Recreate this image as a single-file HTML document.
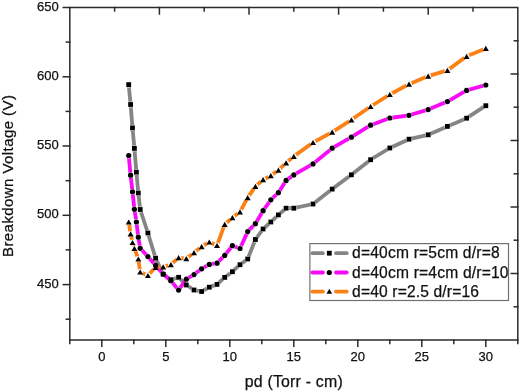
<!DOCTYPE html><html><head><meta charset="utf-8"><style>html,body{margin:0;padding:0;background:#fff;}svg{display:block;}text{font-family:"Liberation Sans",Arial,sans-serif;fill:#111;stroke:#111;stroke-width:0.25px;}</style></head><body>
<svg width="520" height="391" viewBox="0 0 520 391">
<rect width="520" height="391" fill="#fff"/>
<defs>
<mask id="m0" maskUnits="userSpaceOnUse" x="0" y="0" width="520" height="391"><rect width="520" height="391" fill="#fff"/><circle cx="128.7" cy="84.6" r="2.9" fill="#000"/><circle cx="130.6" cy="104.5" r="2.9" fill="#000"/><circle cx="132.5" cy="127.9" r="2.9" fill="#000"/><circle cx="134.4" cy="148.4" r="2.9" fill="#000"/><circle cx="136.4" cy="172.2" r="2.9" fill="#000"/><circle cx="138.3" cy="193.0" r="2.9" fill="#000"/><circle cx="140.2" cy="209.5" r="2.9" fill="#000"/><circle cx="147.9" cy="233.0" r="2.9" fill="#000"/><circle cx="155.6" cy="258.2" r="2.9" fill="#000"/><circle cx="163.2" cy="274.2" r="2.9" fill="#000"/><circle cx="170.9" cy="279.8" r="2.9" fill="#000"/><circle cx="178.6" cy="277.3" r="2.9" fill="#000"/><circle cx="186.3" cy="285.0" r="2.9" fill="#000"/><circle cx="194.0" cy="290.0" r="2.9" fill="#000"/><circle cx="201.6" cy="291.5" r="2.9" fill="#000"/><circle cx="209.3" cy="287.2" r="2.9" fill="#000"/><circle cx="217.0" cy="284.4" r="2.9" fill="#000"/><circle cx="224.7" cy="277.4" r="2.9" fill="#000"/><circle cx="232.4" cy="271.7" r="2.9" fill="#000"/><circle cx="240.0" cy="264.7" r="2.9" fill="#000"/><circle cx="247.7" cy="259.0" r="2.9" fill="#000"/><circle cx="255.4" cy="239.5" r="2.9" fill="#000"/><circle cx="263.1" cy="229.0" r="2.9" fill="#000"/><circle cx="270.8" cy="222.0" r="2.9" fill="#000"/><circle cx="278.4" cy="214.9" r="2.9" fill="#000"/><circle cx="286.1" cy="208.2" r="2.9" fill="#000"/><circle cx="293.8" cy="208.2" r="2.9" fill="#000"/><circle cx="313.0" cy="204.0" r="2.9" fill="#000"/><circle cx="332.2" cy="189.1" r="2.9" fill="#000"/><circle cx="351.4" cy="174.8" r="2.9" fill="#000"/><circle cx="370.6" cy="159.7" r="2.9" fill="#000"/><circle cx="389.8" cy="148.0" r="2.9" fill="#000"/><circle cx="409.0" cy="139.2" r="2.9" fill="#000"/><circle cx="428.2" cy="134.8" r="2.9" fill="#000"/><circle cx="447.4" cy="126.4" r="2.9" fill="#000"/><circle cx="466.6" cy="118.2" r="2.9" fill="#000"/><circle cx="485.8" cy="105.7" r="2.9" fill="#000"/></mask>
<mask id="m1" maskUnits="userSpaceOnUse" x="0" y="0" width="520" height="391"><rect width="520" height="391" fill="#fff"/><circle cx="128.7" cy="155.5" r="2.9" fill="#000"/><circle cx="130.6" cy="175.2" r="2.9" fill="#000"/><circle cx="132.5" cy="191.8" r="2.9" fill="#000"/><circle cx="134.4" cy="209.3" r="2.9" fill="#000"/><circle cx="136.4" cy="222.0" r="2.9" fill="#000"/><circle cx="138.3" cy="237.2" r="2.9" fill="#000"/><circle cx="140.2" cy="248.3" r="2.9" fill="#000"/><circle cx="147.9" cy="256.6" r="2.9" fill="#000"/><circle cx="155.6" cy="265.4" r="2.9" fill="#000"/><circle cx="163.2" cy="274.0" r="2.9" fill="#000"/><circle cx="170.9" cy="280.7" r="2.9" fill="#000"/><circle cx="178.6" cy="290.1" r="2.9" fill="#000"/><circle cx="186.3" cy="279.2" r="2.9" fill="#000"/><circle cx="194.0" cy="274.6" r="2.9" fill="#000"/><circle cx="201.6" cy="268.8" r="2.9" fill="#000"/><circle cx="209.3" cy="264.4" r="2.9" fill="#000"/><circle cx="217.0" cy="263.2" r="2.9" fill="#000"/><circle cx="224.7" cy="255.4" r="2.9" fill="#000"/><circle cx="232.4" cy="245.7" r="2.9" fill="#000"/><circle cx="240.0" cy="248.5" r="2.9" fill="#000"/><circle cx="247.7" cy="231.6" r="2.9" fill="#000"/><circle cx="255.4" cy="223.7" r="2.9" fill="#000"/><circle cx="263.1" cy="210.7" r="2.9" fill="#000"/><circle cx="270.8" cy="199.8" r="2.9" fill="#000"/><circle cx="278.4" cy="192.7" r="2.9" fill="#000"/><circle cx="286.1" cy="180.4" r="2.9" fill="#000"/><circle cx="293.8" cy="174.9" r="2.9" fill="#000"/><circle cx="313.0" cy="163.9" r="2.9" fill="#000"/><circle cx="332.2" cy="148.2" r="2.9" fill="#000"/><circle cx="351.4" cy="137.2" r="2.9" fill="#000"/><circle cx="370.6" cy="125.2" r="2.9" fill="#000"/><circle cx="389.8" cy="118.0" r="2.9" fill="#000"/><circle cx="409.0" cy="115.3" r="2.9" fill="#000"/><circle cx="428.2" cy="109.6" r="2.9" fill="#000"/><circle cx="447.4" cy="101.6" r="2.9" fill="#000"/><circle cx="466.6" cy="90.4" r="2.9" fill="#000"/><circle cx="485.8" cy="85.0" r="2.9" fill="#000"/></mask>
<mask id="m2" maskUnits="userSpaceOnUse" x="0" y="0" width="520" height="391"><rect width="520" height="391" fill="#fff"/><circle cx="128.7" cy="222.0" r="2.9" fill="#000"/><circle cx="130.6" cy="233.9" r="2.9" fill="#000"/><circle cx="132.5" cy="242.5" r="2.9" fill="#000"/><circle cx="134.4" cy="248.4" r="2.9" fill="#000"/><circle cx="138.3" cy="259.0" r="2.9" fill="#000"/><circle cx="140.2" cy="272.0" r="2.9" fill="#000"/><circle cx="147.9" cy="275.5" r="2.9" fill="#000"/><circle cx="155.6" cy="267.3" r="2.9" fill="#000"/><circle cx="163.2" cy="266.8" r="2.9" fill="#000"/><circle cx="170.9" cy="264.6" r="2.9" fill="#000"/><circle cx="178.6" cy="257.6" r="2.9" fill="#000"/><circle cx="186.3" cy="258.6" r="2.9" fill="#000"/><circle cx="194.0" cy="252.7" r="2.9" fill="#000"/><circle cx="201.6" cy="246.6" r="2.9" fill="#000"/><circle cx="209.3" cy="242.0" r="2.9" fill="#000"/><circle cx="217.0" cy="245.5" r="2.9" fill="#000"/><circle cx="224.7" cy="224.4" r="2.9" fill="#000"/><circle cx="232.4" cy="217.6" r="2.9" fill="#000"/><circle cx="240.0" cy="211.9" r="2.9" fill="#000"/><circle cx="247.7" cy="197.6" r="2.9" fill="#000"/><circle cx="255.4" cy="186.4" r="2.9" fill="#000"/><circle cx="263.1" cy="179.7" r="2.9" fill="#000"/><circle cx="270.8" cy="175.6" r="2.9" fill="#000"/><circle cx="278.4" cy="170.1" r="2.9" fill="#000"/><circle cx="286.1" cy="162.9" r="2.9" fill="#000"/><circle cx="293.8" cy="156.4" r="2.9" fill="#000"/><circle cx="313.0" cy="142.5" r="2.9" fill="#000"/><circle cx="332.2" cy="132.1" r="2.9" fill="#000"/><circle cx="351.4" cy="119.8" r="2.9" fill="#000"/><circle cx="370.6" cy="106.5" r="2.9" fill="#000"/><circle cx="389.8" cy="94.5" r="2.9" fill="#000"/><circle cx="409.0" cy="84.2" r="2.9" fill="#000"/><circle cx="428.2" cy="76.1" r="2.9" fill="#000"/><circle cx="447.4" cy="70.4" r="2.9" fill="#000"/><circle cx="466.6" cy="56.3" r="2.9" fill="#000"/><circle cx="485.8" cy="48.4" r="2.9" fill="#000"/></mask>
</defs>
<polyline points="128.7,84.6 130.6,104.5 132.5,127.9 134.4,148.4 136.4,172.2 138.3,193.0 140.2,209.5 147.9,233.0 155.6,258.2 163.2,274.2 170.9,279.8 178.6,277.3 186.3,285.0 194.0,290.0 201.6,291.5 209.3,287.2 217.0,284.4 224.7,277.4 232.4,271.7 240.0,264.7 247.7,259.0 255.4,239.5 263.1,229.0 270.8,222.0 278.4,214.9 286.1,208.2 293.8,208.2 313.0,204.0 332.2,189.1 351.4,174.8 370.6,159.7 389.8,148.0 409.0,139.2 428.2,134.8 447.4,126.4 466.6,118.2 485.8,105.7" fill="none" stroke="#858585" stroke-width="3.8" stroke-linejoin="round" stroke-linecap="butt" mask="url(#m0)"/>
<polyline points="128.7,155.5 130.6,175.2 132.5,191.8 134.4,209.3 136.4,222.0 138.3,237.2 140.2,248.3 147.9,256.6 155.6,265.4 163.2,274.0 170.9,280.7 178.6,290.1 186.3,279.2 194.0,274.6 201.6,268.8 209.3,264.4 217.0,263.2 224.7,255.4 232.4,245.7 240.0,248.5 247.7,231.6 255.4,223.7 263.1,210.7 270.8,199.8 278.4,192.7 286.1,180.4 293.8,174.9 313.0,163.9 332.2,148.2 351.4,137.2 370.6,125.2 389.8,118.0 409.0,115.3 428.2,109.6 447.4,101.6 466.6,90.4 485.8,85.0" fill="none" stroke="#f80cf8" stroke-width="3.8" stroke-linejoin="round" stroke-linecap="butt" mask="url(#m1)"/>
<polyline points="128.7,222.0 130.6,233.9 132.5,242.5 134.4,248.4 138.3,259.0 140.2,272.0 147.9,275.5 155.6,267.3 163.2,266.8 170.9,264.6 178.6,257.6 186.3,258.6 194.0,252.7 201.6,246.6 209.3,242.0 217.0,245.5 224.7,224.4 232.4,217.6 240.0,211.9 247.7,197.6 255.4,186.4 263.1,179.7 270.8,175.6 278.4,170.1 286.1,162.9 293.8,156.4 313.0,142.5 332.2,132.1 351.4,119.8 370.6,106.5 389.8,94.5 409.0,84.2 428.2,76.1 447.4,70.4 466.6,56.3 485.8,48.4" fill="none" stroke="#fb8114" stroke-width="3.8" stroke-linejoin="round" stroke-linecap="butt" mask="url(#m2)"/>
<g fill="#000"><rect x="126.3" y="82.2" width="4.8" height="4.8"/><rect x="128.2" y="102.1" width="4.8" height="4.8"/><rect x="130.1" y="125.5" width="4.8" height="4.8"/><rect x="132.0" y="146.0" width="4.8" height="4.8"/><rect x="134.0" y="169.8" width="4.8" height="4.8"/><rect x="135.9" y="190.6" width="4.8" height="4.8"/><rect x="137.8" y="207.1" width="4.8" height="4.8"/><rect x="145.5" y="230.6" width="4.8" height="4.8"/><rect x="153.2" y="255.8" width="4.8" height="4.8"/><rect x="160.8" y="271.8" width="4.8" height="4.8"/><rect x="168.5" y="277.4" width="4.8" height="4.8"/><rect x="176.2" y="274.9" width="4.8" height="4.8"/><rect x="183.9" y="282.6" width="4.8" height="4.8"/><rect x="191.6" y="287.6" width="4.8" height="4.8"/><rect x="199.2" y="289.1" width="4.8" height="4.8"/><rect x="206.9" y="284.8" width="4.8" height="4.8"/><rect x="214.6" y="282.0" width="4.8" height="4.8"/><rect x="222.3" y="275.0" width="4.8" height="4.8"/><rect x="230.0" y="269.3" width="4.8" height="4.8"/><rect x="237.6" y="262.3" width="4.8" height="4.8"/><rect x="245.3" y="256.6" width="4.8" height="4.8"/><rect x="253.0" y="237.1" width="4.8" height="4.8"/><rect x="260.7" y="226.6" width="4.8" height="4.8"/><rect x="268.4" y="219.6" width="4.8" height="4.8"/><rect x="276.0" y="212.5" width="4.8" height="4.8"/><rect x="283.7" y="205.8" width="4.8" height="4.8"/><rect x="291.4" y="205.8" width="4.8" height="4.8"/><rect x="310.6" y="201.6" width="4.8" height="4.8"/><rect x="329.8" y="186.7" width="4.8" height="4.8"/><rect x="349.0" y="172.4" width="4.8" height="4.8"/><rect x="368.2" y="157.3" width="4.8" height="4.8"/><rect x="387.4" y="145.6" width="4.8" height="4.8"/><rect x="406.6" y="136.8" width="4.8" height="4.8"/><rect x="425.8" y="132.4" width="4.8" height="4.8"/><rect x="445.0" y="124.0" width="4.8" height="4.8"/><rect x="464.2" y="115.8" width="4.8" height="4.8"/><rect x="483.4" y="103.3" width="4.8" height="4.8"/><circle cx="128.7" cy="155.5" r="2.6"/><circle cx="130.6" cy="175.2" r="2.6"/><circle cx="132.5" cy="191.8" r="2.6"/><circle cx="134.4" cy="209.3" r="2.6"/><circle cx="136.4" cy="222.0" r="2.6"/><circle cx="138.3" cy="237.2" r="2.6"/><circle cx="140.2" cy="248.3" r="2.6"/><circle cx="147.9" cy="256.6" r="2.6"/><circle cx="155.6" cy="265.4" r="2.6"/><circle cx="163.2" cy="274.0" r="2.6"/><circle cx="170.9" cy="280.7" r="2.6"/><circle cx="178.6" cy="290.1" r="2.6"/><circle cx="186.3" cy="279.2" r="2.6"/><circle cx="194.0" cy="274.6" r="2.6"/><circle cx="201.6" cy="268.8" r="2.6"/><circle cx="209.3" cy="264.4" r="2.6"/><circle cx="217.0" cy="263.2" r="2.6"/><circle cx="224.7" cy="255.4" r="2.6"/><circle cx="232.4" cy="245.7" r="2.6"/><circle cx="240.0" cy="248.5" r="2.6"/><circle cx="247.7" cy="231.6" r="2.6"/><circle cx="255.4" cy="223.7" r="2.6"/><circle cx="263.1" cy="210.7" r="2.6"/><circle cx="270.8" cy="199.8" r="2.6"/><circle cx="278.4" cy="192.7" r="2.6"/><circle cx="286.1" cy="180.4" r="2.6"/><circle cx="293.8" cy="174.9" r="2.6"/><circle cx="313.0" cy="163.9" r="2.6"/><circle cx="332.2" cy="148.2" r="2.6"/><circle cx="351.4" cy="137.2" r="2.6"/><circle cx="370.6" cy="125.2" r="2.6"/><circle cx="389.8" cy="118.0" r="2.6"/><circle cx="409.0" cy="115.3" r="2.6"/><circle cx="428.2" cy="109.6" r="2.6"/><circle cx="447.4" cy="101.6" r="2.6"/><circle cx="466.6" cy="90.4" r="2.6"/><circle cx="485.8" cy="85.0" r="2.6"/><polygon points="128.7,219.4 131.7,224.6 125.7,224.6"/><polygon points="130.6,231.3 133.6,236.5 127.6,236.5"/><polygon points="132.5,239.9 135.5,245.1 129.5,245.1"/><polygon points="134.4,245.8 137.4,251.0 131.4,251.0"/><polygon points="138.3,256.4 141.3,261.6 135.3,261.6"/><polygon points="140.2,269.4 143.2,274.6 137.2,274.6"/><polygon points="147.9,272.9 150.9,278.1 144.9,278.1"/><polygon points="155.6,264.7 158.6,269.9 152.6,269.9"/><polygon points="163.2,264.2 166.2,269.4 160.2,269.4"/><polygon points="170.9,262.0 173.9,267.2 167.9,267.2"/><polygon points="178.6,255.0 181.6,260.2 175.6,260.2"/><polygon points="186.3,256.0 189.3,261.2 183.3,261.2"/><polygon points="194.0,250.1 197.0,255.3 191.0,255.3"/><polygon points="201.6,244.0 204.6,249.2 198.6,249.2"/><polygon points="209.3,239.4 212.3,244.6 206.3,244.6"/><polygon points="217.0,242.9 220.0,248.1 214.0,248.1"/><polygon points="224.7,221.8 227.7,227.0 221.7,227.0"/><polygon points="232.4,215.0 235.4,220.2 229.4,220.2"/><polygon points="240.0,209.3 243.0,214.5 237.0,214.5"/><polygon points="247.7,195.0 250.7,200.2 244.7,200.2"/><polygon points="255.4,183.8 258.4,189.0 252.4,189.0"/><polygon points="263.1,177.1 266.1,182.3 260.1,182.3"/><polygon points="270.8,173.0 273.8,178.2 267.8,178.2"/><polygon points="278.4,167.5 281.4,172.7 275.4,172.7"/><polygon points="286.1,160.3 289.1,165.5 283.1,165.5"/><polygon points="293.8,153.8 296.8,159.0 290.8,159.0"/><polygon points="313.0,139.9 316.0,145.1 310.0,145.1"/><polygon points="332.2,129.5 335.2,134.7 329.2,134.7"/><polygon points="351.4,117.2 354.4,122.4 348.4,122.4"/><polygon points="370.6,103.9 373.6,109.1 367.6,109.1"/><polygon points="389.8,91.9 392.8,97.1 386.8,97.1"/><polygon points="409.0,81.6 412.0,86.8 406.0,86.8"/><polygon points="428.2,73.5 431.2,78.7 425.2,78.7"/><polygon points="447.4,67.8 450.4,73.0 444.4,73.0"/><polygon points="466.6,53.7 469.6,58.9 463.6,58.9"/><polygon points="485.8,45.8 488.8,51.0 482.8,51.0"/></g>
<g stroke="#2b2b2b" stroke-width="1.5" fill="none" stroke-linecap="square">
<rect x="69.8" y="7.5" width="447.99999999999994" height="332.5"/>
<line x1="69.8" y1="340.0" x2="69.8" y2="343.5"/>
<line x1="101.8" y1="340.0" x2="101.8" y2="346.3"/>
<line x1="133.8" y1="340.0" x2="133.8" y2="343.5"/>
<line x1="165.8" y1="340.0" x2="165.8" y2="346.3"/>
<line x1="197.8" y1="340.0" x2="197.8" y2="343.5"/>
<line x1="229.8" y1="340.0" x2="229.8" y2="346.3"/>
<line x1="261.8" y1="340.0" x2="261.8" y2="343.5"/>
<line x1="293.8" y1="340.0" x2="293.8" y2="346.3"/>
<line x1="325.8" y1="340.0" x2="325.8" y2="343.5"/>
<line x1="357.8" y1="340.0" x2="357.8" y2="346.3"/>
<line x1="389.8" y1="340.0" x2="389.8" y2="343.5"/>
<line x1="421.8" y1="340.0" x2="421.8" y2="346.3"/>
<line x1="453.8" y1="340.0" x2="453.8" y2="343.5"/>
<line x1="485.8" y1="340.0" x2="485.8" y2="346.3"/>
<line x1="517.8" y1="340.0" x2="517.8" y2="343.5"/>
<line x1="69.8" y1="319.2" x2="66.3" y2="319.2"/>
<line x1="69.8" y1="284.6" x2="63.3" y2="284.6"/>
<line x1="69.8" y1="249.9" x2="66.3" y2="249.9"/>
<line x1="69.8" y1="215.3" x2="63.3" y2="215.3"/>
<line x1="69.8" y1="180.7" x2="66.3" y2="180.7"/>
<line x1="69.8" y1="146.0" x2="63.3" y2="146.0"/>
<line x1="69.8" y1="111.4" x2="66.3" y2="111.4"/>
<line x1="69.8" y1="76.8" x2="63.3" y2="76.8"/>
<line x1="69.8" y1="42.1" x2="66.3" y2="42.1"/>
<line x1="69.8" y1="7.5" x2="63.3" y2="7.5"/>
<line x1="114.6" y1="7.5" x2="114.6" y2="11.0"/>
<line x1="159.4" y1="7.5" x2="159.4" y2="14.0"/>
<line x1="204.2" y1="7.5" x2="204.2" y2="11.0"/>
<line x1="249.0" y1="7.5" x2="249.0" y2="14.0"/>
<line x1="293.8" y1="7.5" x2="293.8" y2="11.0"/>
<line x1="338.6" y1="7.5" x2="338.6" y2="14.0"/>
<line x1="383.4" y1="7.5" x2="383.4" y2="11.0"/>
<line x1="428.2" y1="7.5" x2="428.2" y2="14.0"/>
<line x1="473.0" y1="7.5" x2="473.0" y2="11.0"/>
<line x1="517.8" y1="40.8" x2="514.3" y2="40.8"/>
<line x1="517.8" y1="74.0" x2="511.29999999999995" y2="74.0"/>
<line x1="517.8" y1="107.2" x2="514.3" y2="107.2"/>
<line x1="517.8" y1="140.5" x2="511.29999999999995" y2="140.5"/>
<line x1="517.8" y1="173.8" x2="514.3" y2="173.8"/>
<line x1="517.8" y1="207.0" x2="511.29999999999995" y2="207.0"/>
<line x1="517.8" y1="240.2" x2="514.3" y2="240.2"/>
<line x1="517.8" y1="273.5" x2="511.29999999999995" y2="273.5"/>
<line x1="517.8" y1="306.8" x2="514.3" y2="306.8"/>
</g>
<text x="58.8" y="287.6" font-size="13.0" text-anchor="end">450</text>
<text x="58.8" y="218.3" font-size="13.0" text-anchor="end">500</text>
<text x="58.8" y="149.0" font-size="13.0" text-anchor="end">550</text>
<text x="58.8" y="79.8" font-size="13.0" text-anchor="end">600</text>
<text x="58.8" y="10.5" font-size="13.0" text-anchor="end">650</text>
<text x="101.8" y="361" font-size="13.0" text-anchor="middle">0</text>
<text x="165.8" y="361" font-size="13.0" text-anchor="middle">5</text>
<text x="229.8" y="361" font-size="13.0" text-anchor="middle">10</text>
<text x="293.8" y="361" font-size="13.0" text-anchor="middle">15</text>
<text x="357.8" y="361" font-size="13.0" text-anchor="middle">20</text>
<text x="421.8" y="361" font-size="13.0" text-anchor="middle">25</text>
<text x="485.8" y="361" font-size="13.0" text-anchor="middle">30</text>
<text x="244.7" y="386.8" font-size="15.9" textLength="98.0" lengthAdjust="spacing">pd (Torr - cm)</text>
<text transform="translate(13.0,257.0) rotate(-90)" font-size="15.0" textLength="162.0" lengthAdjust="spacing">Breakdown Voltage (V)</text>
<rect x="309.9" y="243.6" width="198.6" height="56.9" fill="#fff" stroke="#707070" stroke-width="1.2"/>
<line x1="312.4" y1="253.2" x2="322.9" y2="253.2" stroke="#858585" stroke-width="3.8" stroke-linecap="round"/>
<line x1="336.0" y1="253.2" x2="346.7" y2="253.2" stroke="#858585" stroke-width="3.8" stroke-linecap="round"/>
<rect x="326.90000000000003" y="250.79999999999998" width="4.8" height="4.8" fill="#000"/>
<text x="352.1" y="258.4" font-size="15.6" textLength="147.5" lengthAdjust="spacing">d=40cm r=5cm d/r=8</text>
<line x1="312.4" y1="272.5" x2="322.9" y2="272.5" stroke="#f80cf8" stroke-width="3.8" stroke-linecap="round"/>
<line x1="336.0" y1="272.5" x2="346.7" y2="272.5" stroke="#f80cf8" stroke-width="3.8" stroke-linecap="round"/>
<circle cx="329.3" cy="272.5" r="2.6" fill="#000"/>
<text x="352.1" y="277.7" font-size="15.6" textLength="156.4" lengthAdjust="spacing">d=40cm r=4cm d/r=10</text>
<line x1="312.4" y1="291.6" x2="322.9" y2="291.6" stroke="#fb8114" stroke-width="3.8" stroke-linecap="round"/>
<line x1="336.0" y1="291.6" x2="346.7" y2="291.6" stroke="#fb8114" stroke-width="3.8" stroke-linecap="round"/>
<polygon points="329.3,288.8 332.1,293.8 326.5,293.8" fill="#000"/>
<text x="352.1" y="296.8" font-size="15.6" textLength="126.8" lengthAdjust="spacing">d=40 r=2.5 d/r=16</text>
</svg></body></html>
